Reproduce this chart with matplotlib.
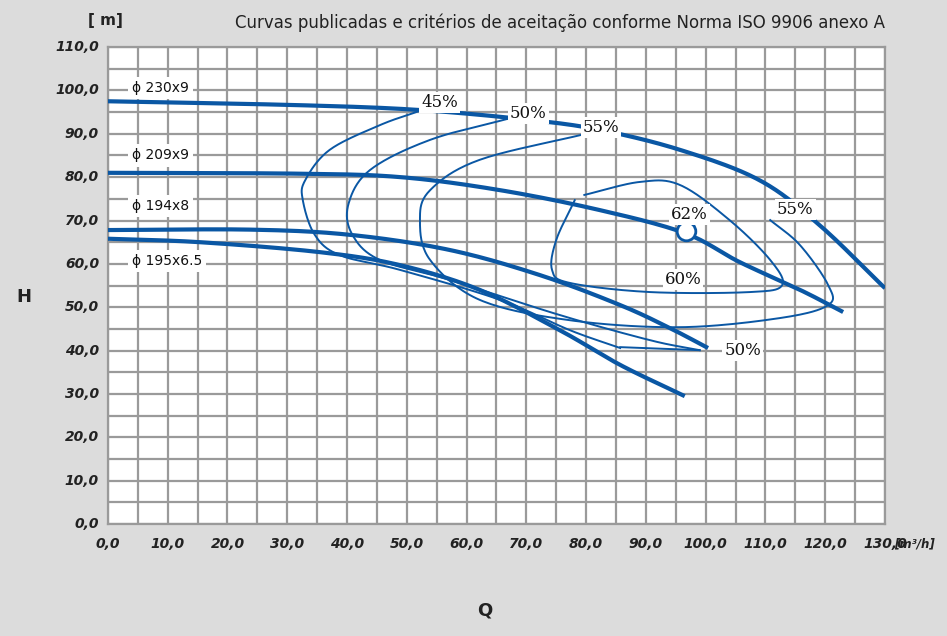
import matplotlib
matplotlib.use("Agg")
import matplotlib.pyplot as plt
import numpy as np

# Pump head curves (Q m3/h, H m)
q_230 = [0, 32, 52, 70.6, 82.3, 95.7, 109, 119, 130]
h_230 = [97.5, 96.6, 95.5, 93.2, 90.9, 86.3, 79.3, 69, 54.4]
q_209 = [0, 32, 49, 65.6, 82.3, 96.5, 105.7, 115.8, 123]
h_209 = [81.0, 80.8, 80, 77, 72.4, 67.1, 60.4, 54, 48.9]
q_194 = [0, 23.8, 40.5, 57.2, 72.3, 85.7, 94, 100.4]
h_194 = [67.8, 67.9, 66.7, 63.2, 57.4, 50.5, 45.2, 40.6]
q_195 = [0, 15.4, 35.5, 48.9, 62.2, 75.6, 85.7, 96.5]
h_195 = [65.8, 65, 62.7, 59.7, 54, 44.7, 36.7, 29.5]

# Iso-efficiency curves
q_e45 = [52.2, 45.5, 37.1, 33, 32.6, 34.6, 38.8, 48.9, 65.6, 77.3, 85.7]
h_e45 = [95.3, 92, 86.3, 79.3, 74.7, 66.7, 62, 58.6, 51.7, 44.7, 40.6]
q_e50 = [67.3, 53.9, 43.8, 40.2, 40.9, 45.5, 57.2, 75.6, 90.7, 99]
h_e50 = [93.6, 88.6, 81.6, 73.6, 66.7, 60.9, 56.3, 48.2, 42.4, 40.1]
q_e50b = [85.7, 99]
h_e50b = [40.8, 40.1]
q_e55 = [80.6, 62.2, 53.9, 52.2, 53.9, 62.2, 77.3, 95.7, 112.4, 120.5, 120.5, 115.8, 110.8]
h_e55 = [90.2, 84, 77, 70.1, 60.9, 51.7, 47, 45.4, 47.5, 50.5, 55.1, 64.3, 70.1]
q_e60 = [78.1, 75, 74.3, 77.3, 90.7, 107.4, 112.8, 110.8, 104, 95.7, 89, 79.7]
h_e60 = [74.7, 65.5, 58.6, 55.6, 53.5, 53.5, 55.1, 60.9, 70.1, 78.2, 78.9, 75.9]
bep_q, bep_h = 96.7, 67.6

diam_labels = ["ϕ 230x9", "ϕ 209x9", "ϕ 194x8", "ϕ 195x6.5"]
diam_h = [100.5, 85.0, 73.3, 60.6]
eff_labels = ["45%", "50%", "55%", "62%", "55%", "60%", "50%"]
eff_q = [55.5, 70.3, 82.5, 97.3, 115, 96.2, 106.2]
eff_h = [97.3, 94.7, 91.5, 71.5, 72.5, 56.5, 40.0]

xticks = np.arange(0, 131, 10)
yticks = np.arange(0, 111, 10)

def smooth(x, y, n=20):
    p = np.column_stack([x, y]).astype(float)
    p = np.vstack([2*p[0]-p[1], p, 2*p[-1]-p[-2]])
    out = []
    for i in range(1, len(p)-2):
        p0, p1, p2, p3 = p[i-1], p[i], p[i+1], p[i+2]
        for t in np.linspace(0, 1, n, endpoint=False):
            out.append(0.5*((2*p1) + (-p0+p2)*t + (2*p0-5*p1+4*p2-p3)*t*t + (-p0+3*p1-3*p2+p3)*t**3))
    out.append(p[-2])
    out = np.array(out)
    return out[:, 0], out[:, 1]

blue = "#0a57a4"
fig = plt.figure(figsize=(9.47, 6.36), dpi=100, facecolor="#dcdcdc")
ax = fig.add_axes([0.114, 0.176, 0.8205, 0.75])
ax.set_facecolor("white")
ax.set_xlim(0, 130)
ax.set_ylim(0, 110)
ax.set_xticks(np.arange(0, 131, 5), minor=False)
ax.set_yticks(np.arange(0, 111, 5))
ax.grid(True, color="#9a9a9a", lw=1.6, zorder=0)
ax.set_axisbelow(True)
ax.tick_params(length=0, labelbottom=False, labelleft=False)
for s in ax.spines.values():
    s.set_color("#9a9a9a"); s.set_linewidth(1.6)

for xv in xticks:
    ax.text(xv, -3, f"{xv:.1f}".replace(".", ","), ha="center", va="top",
            fontsize=10, fontweight="bold", style="italic", color="#222")
for yv in yticks:
    ax.text(-1.5, yv, f"{yv:.1f}".replace(".", ","), ha="right", va="center",
            fontsize=10, fontweight="bold", style="italic", color="#222")
ax.text(131.5, -3, "[m³/h]", ha="left", va="top", fontsize=8.5,
        fontweight="bold", style="italic", color="#222")

for q, h in [(q_230, h_230), (q_209, h_209), (q_194, h_194), (q_195, h_195)]:
    xs, ys = smooth(q, h)
    ax.plot(xs, ys, color=blue, lw=3, solid_capstyle="butt", zorder=3)
for q, h in [(q_e45, h_e45), (q_e50, h_e50), (q_e50b, h_e50b), (q_e55, h_e55), (q_e60, h_e60)]:
    xs, ys = smooth(q, h)
    ax.plot(xs, ys, color=blue, lw=1.4, zorder=3)
ax.plot([bep_q], [bep_h], marker="o", ms=13, mfc="white", mec=blue, mew=2, zorder=4,
        markersize=None) if False else ax.scatter([bep_q], [bep_h], s=180, marker="o",
        facecolor="white", edgecolor=blue, linewidth=2, zorder=4, transform=ax.transData)

for lab, hv in zip(diam_labels, diam_h):
    ax.text(4, hv, lab, fontsize=10, ha="left", va="center", color="#111",
            bbox=dict(facecolor="white", edgecolor="none", pad=3), zorder=5)
for lab, qv, hv in zip(eff_labels, eff_q, eff_h):
    ax.text(qv, hv, lab, fontsize=12, family="DejaVu Serif", ha="center", va="center",
            color="#111", bbox=dict(facecolor="white", edgecolor="none", pad=1.5), zorder=5)

fig.text(0.935, 0.965, "Curvas publicadas e critérios de aceitação conforme Norma ISO 9906 anexo A",
         ha="right", va="center", fontsize=12, family=["Liberation Sans Narrow", "DejaVu Sans"],
         color="#222")
fig.text(0.093, 0.967, "[ m]", ha="left", va="center", fontsize=11, fontweight="bold", color="#222")
fig.text(0.025, 0.533, "H", ha="center", va="center", fontsize=13, fontweight="bold", color="#222")
fig.text(0.512, 0.04, "Q", ha="center", va="center", fontsize=13, fontweight="bold", color="#222")

fig.savefig("out.png", dpi=100, facecolor=fig.get_facecolor())
